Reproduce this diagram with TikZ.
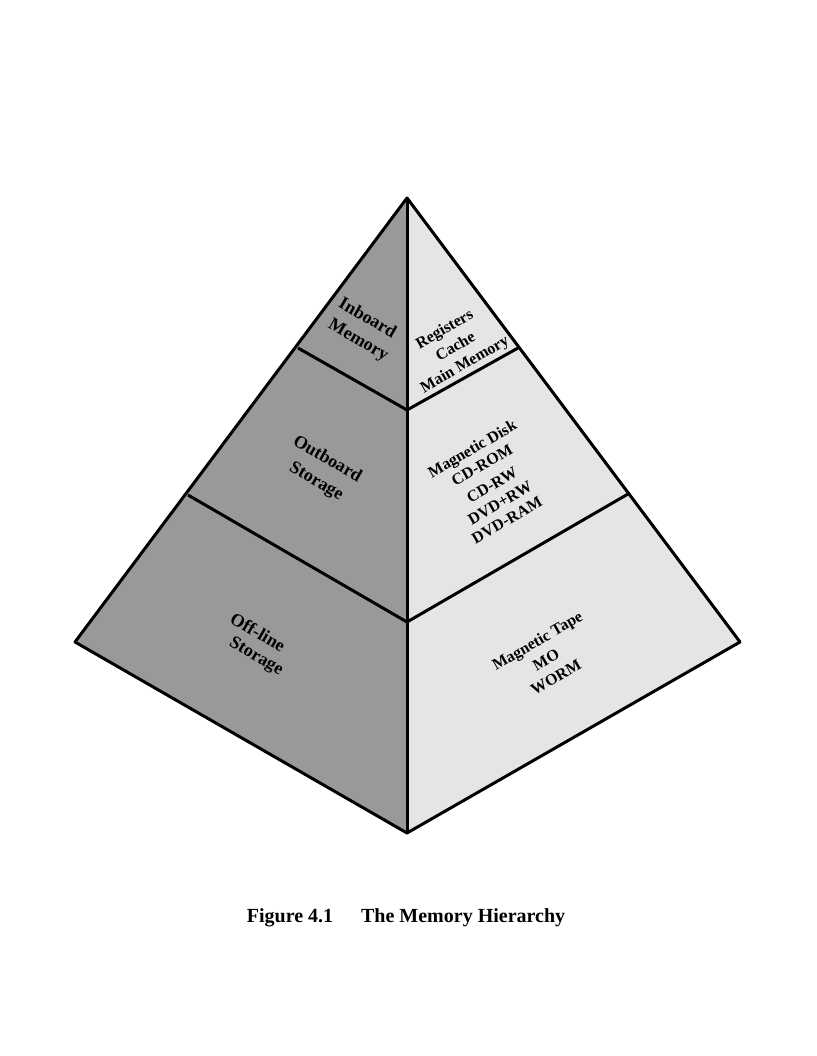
\documentclass[tikz,border=0pt]{standalone}
\usepackage{fontspec}
\setmainfont{Liberation Serif}
\begin{document}
\begin{tikzpicture}[x=1pt,y=-1pt,
  face/.style={draw=black,line width=3pt,line join=round},
  lbl/.style={font=\bfseries\fontsize{16}{16}\selectfont,inner sep=0pt},
  big/.style={font=\bfseries\fontsize{18}{18}\selectfont},
  lft/.style={lbl,big,rotate=-30},
  rgt/.style={lbl,rotate=30}]
\useasboundingbox (0,0) rectangle (816,1056);
\coordinate (A) at (407,198);
\coordinate (L) at (75,642);
\coordinate (R) at (740,642);
\coordinate (B) at (407,833);
\coordinate (L1) at (298,348);
\coordinate (L2) at (188,495);
\coordinate (M1) at (407,410);
\coordinate (M2) at (407,622);
\coordinate (R1) at (518,348);
\coordinate (R2) at (628,494);
\fill[black!40] (A) -- (L) -- (B) -- cycle;
\fill[black!10] (A) -- (R) -- (B) -- cycle;
\draw[face] (A) -- (L) -- (B) -- (R) -- cycle;
\draw[face] (A) -- (B);
\draw[face] (L1) -- (M1) -- (R1);
\draw[face] (L2) -- (M2) -- (R2);
\node[lft] (t1a) at (368,317) {Inboard};
\node[lft] (t1b) at (358,341) {Memory};
\node[lft] (t2a) at (328,458) {Outboard};
\node[lft] (t2b) at (316,482) {Storage};
\node[lft] (t3a) at (258,632) {Off-line};
\node[lft] (t3b) at (256,657) {Storage};
\node[rgt] (t4a) at (445,330) {Registers};
\node[rgt] (t4b) at (455,346) {Cache};
\node[rgt] (t4c) at (465,365) {Main Memory};
\node[rgt] (t5a) at (473,450) {Magnetic Disk};
\node[rgt] (t5b) at (482,465) {CD-ROM};
\node[rgt] (t5c) at (492,485) {CD-RW};
\node[rgt] (t5d) at (500,503) {DVD+RW};
\node[rgt] (t5e) at (507,520) {DVD-RAM};
\node[rgt] (t6a) at (538,642) {Magnetic Tape};
\node[rgt] (t6b) at (546,660) {MO};
\node[rgt] (t6c) at (556,677) {WORM};
\node[lbl,font=\bfseries\fontsize{20}{20}\selectfont] (cap) at (406,918) {Figure 4.1\hspace{1.4em}The Memory Hierarchy};
\end{tikzpicture}
\end{document}
